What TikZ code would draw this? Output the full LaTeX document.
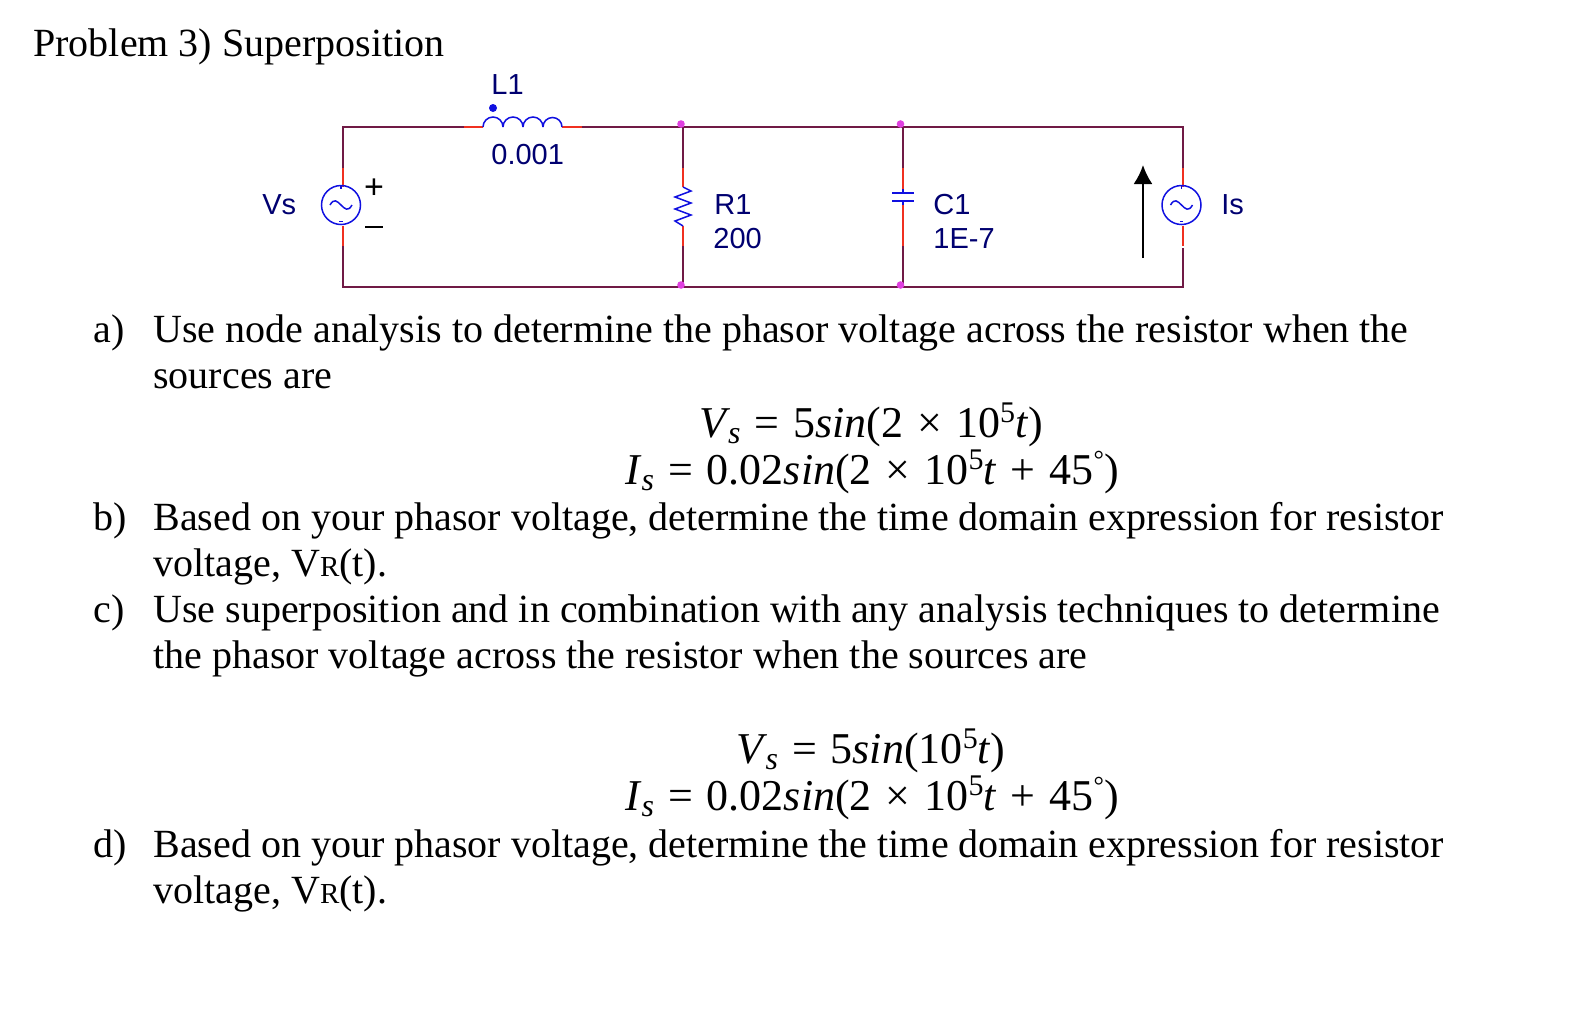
\documentclass[tikz,border=0pt]{standalone}
\usepackage{fontspec}
\usetikzlibrary{arrows.meta}
\setmainfont{Liberation Serif}
\newfontfamily\cirfont{Liberation Sans}
\definecolor{wirec}{HTML}{701A45}
\definecolor{stubc}{HTML}{F03020}
\definecolor{partc}{HTML}{1010E0}
\definecolor{labc}{HTML}{000070}
\definecolor{dotc}{HTML}{E040E0}
\newcommand{\bodysize}{\fontsize{20}{24}\selectfont}
\newcommand{\eqsize}{\fontsize{22}{26}\selectfont}
\newcommand{\subR}{{\fontsize{14.5}{14.5}\selectfont R}}
\newcommand{\varV}{\textit{V}\kern-1pt\raisebox{-3pt}{\fontsize{16}{16}\selectfont\textit{s}}}
\newcommand{\varI}{\textit{I}\raisebox{-3pt}{\fontsize{16}{16}\selectfont\textit{s}}}
\newcommand{\sinw}{\textit{sin}}
\newcommand{\tenfive}{10\raisebox{7.5pt}{\fontsize{15}{15}\selectfont 5}}
\newcommand{\degmark}{\raisebox{8pt}{\fontsize{13}{13}\selectfont °}}
\newcommand{\opx}[1]{\kern1.5pt{} #1 \kern1.5pt{}}
\tikzset{
  x=0.5pt,y=-0.5pt,
  txt/.style={anchor=base west,inner sep=0pt,font=\bodysize,text=black},
  eqn/.style={anchor=base,inner sep=0pt,font=\eqsize,text=black},
  lab/.style={anchor=base west,inner sep=0pt,font=\cirfont\fontsize{14.5}{16}\selectfont,text=labc},
  wire/.style={draw=wirec,line width=0.8pt},
  stub/.style={draw=stubc,line width=0.8pt},
  part/.style={draw=partc,line width=0.75pt},
  srcnode/.style={circle,draw=partc,line width=0.75pt,minimum size=19.5pt,inner sep=0pt},
  jdot/.style={circle,fill=dotc,minimum size=3.8pt,inner sep=0pt},
  arr/.style={-{Latex[length=9.5pt,width=9.5pt]},line width=1.1pt,draw=black}
}
\begin{document}
\begin{tikzpicture}
\useasboundingbox (0,0) rectangle (1570,1014);
% coordinates
\coordinate (tl) at (343,127); \coordinate (bl) at (343,287);
\coordinate (tr) at (1183,127); \coordinate (br) at (1183,287);
\coordinate (lA) at (464,127); \coordinate (lB) at (483,127);
\coordinate (lC) at (562,127); \coordinate (lD) at (582,127);
\coordinate (tR) at (683,127); \coordinate (bR) at (683,287);
\coordinate (tC) at (903,127); \coordinate (bC) at (903,287);
% wires
\draw[wire] (lA) -- (tl) -- (343,168) coordinate (vsT);
\draw[wire] (343,246) coordinate (vsB) -- (bl) -- (br) -- (1183,248) coordinate (isB);
\draw[wire] (lD) -- (tr) -- (1183,168) coordinate (isT);
\draw[wire] (tR) -- (683,168) coordinate (rT);
\draw[wire] (683,246) coordinate (rB) -- (bR);
\draw[wire] (tC) -- (903,168) coordinate (cT);
\draw[wire] (903,246) coordinate (cB) -- (bC);
% red stubs
\draw[stub] (vsT) -- (343,187); \draw[stub] (343,226) -- (vsB);
\draw[stub] (lA) -- (lB); \draw[stub] (lC) -- (lD);
\draw[stub] (rT) -- (683,187); \draw[stub] (683,226) -- (rB);
\draw[stub] (cT) -- (903,193); \draw[stub] (903,201) -- (cB);
\draw[stub] (isT) -- (1183,187); \draw[stub] (1183,226) -- (1183,246);
% sources
\node[srcnode] (vs) at (341,205) {};
\node[srcnode] (is) at (1181.5,205) {};
\foreach \n in {vs,is}{
  \draw[part] ([xshift=-5.5pt]\n.center) .. controls +(2pt,3.5pt) and +(-2pt,2pt) .. (\n.center)
              .. controls +(2pt,-2pt) and +(-2pt,-3.5pt) .. ([xshift=5.5pt]\n.center);
  \draw[part] ([yshift=9.6pt]\n.center) -- ([yshift=8.2pt]\n.center);
  \draw[part] ([yshift=-8.2pt,xshift=-0.8pt]\n.center) -- ([yshift=-8.2pt,xshift=0.8pt]\n.center);
}
% inductor
\draw[part] (lB) arc[start angle=180,end angle=360,radius=10]
  (503,127) arc[start angle=180,end angle=360,radius=10]
  (523,127) arc[start angle=180,end angle=360,radius=10]
  (543,127) arc[start angle=180,end angle=360,radius=9.5];
\node[circle,fill=partc,minimum size=4pt,inner sep=0pt] (ldot) at (493,108) {};
% resistor
\draw[part] (683,187) -- (691,191) -- (675,197) -- (691,203) -- (675,209) -- (691,215) -- (675,221) -- (683,226);
% capacitor
\draw[part] (892,193) -- (914,193);
\draw[part] (892,201) -- (914,201);
\draw[part] (903,189) -- (903,193); \draw[part] (903,201) -- (903,205);
% arrow
\coordinate (aS) at (1143,258); \coordinate (aE) at (1143,165);
\draw[arr] (aS) -- (aE);
% dots
\node[jdot] (d1) at (681,124) {}; \node[jdot] (d2) at (900.5,124) {};
\node[jdot] (d3) at (681,285) {}; \node[jdot] (d4) at (900.5,285) {};
% labels
\node[lab] (nL1) at (491,94) {L1};
\node[lab] (nL2) at (491,164) {0.001};
\node[lab] (nVs) at (262,214) {Vs};
\node[lab] (nR1) at (714,214) {R1};
\node[lab] (nR2) at (713,248) {200};
\node[lab] (nC1) at (933,214) {C1};
\node[lab] (nC2) at (933,248) {1E-7};
\node[lab] (nIs) at (1221,214) {Is};
\node[inner sep=0pt,text=black,font=\cirfont\fontsize{17}{17}\selectfont] (np) at (374,189) {+};
\draw[black,line width=0.8pt] (365,227) coordinate (mA) -- (383,227) coordinate (mB);
% text
\node[txt] (t0) at (33,56) {Problem 3) Superposition};
\node[txt] (a0) at (93,342) {a)};
\node[txt] (a1) at (153,342) {Use node analysis to determine the phasor voltage across the resistor when the};
\node[txt] (a2) at (153,388) {sources are};
\node[eqn] (e1) at (871,437) {\varV{}\opx{=}5\sinw(2\opx{×}\tenfive\textit{t})};
\node[eqn] (e2) at (872,484) {\varI{}\opx{=}0.02\sinw(2\opx{×}\tenfive\textit{t}\opx{+}45\degmark)};
\node[txt] (b0) at (93,530) {b)};
\node[txt] (b1) at (153,530) {Based on your phasor voltage, determine the time domain expression for resistor};
\node[txt] (b2) at (153,576) {voltage, V\subR(t).};
\node[txt] (c0) at (93,622) {c)};
\node[txt] (c1) at (153,622) {Use superposition and in combination with any analysis techniques to determine};
\node[txt] (c2) at (153,668) {the phasor voltage across the resistor when the sources are};
\node[eqn] (e3) at (871,763) {\varV{}\opx{=}5\sinw(\tenfive\textit{t})};
\node[eqn] (e4) at (872,810) {\varI{}\opx{=}0.02\sinw(2\opx{×}\tenfive\textit{t}\opx{+}45\degmark)};
\node[txt] (d0) at (93,857) {d)};
\node[txt] (d1t) at (153,857) {Based on your phasor voltage, determine the time domain expression for resistor};
\node[txt] (d2t) at (153,903) {voltage, V\subR(t).};
\end{tikzpicture}
\end{document}
